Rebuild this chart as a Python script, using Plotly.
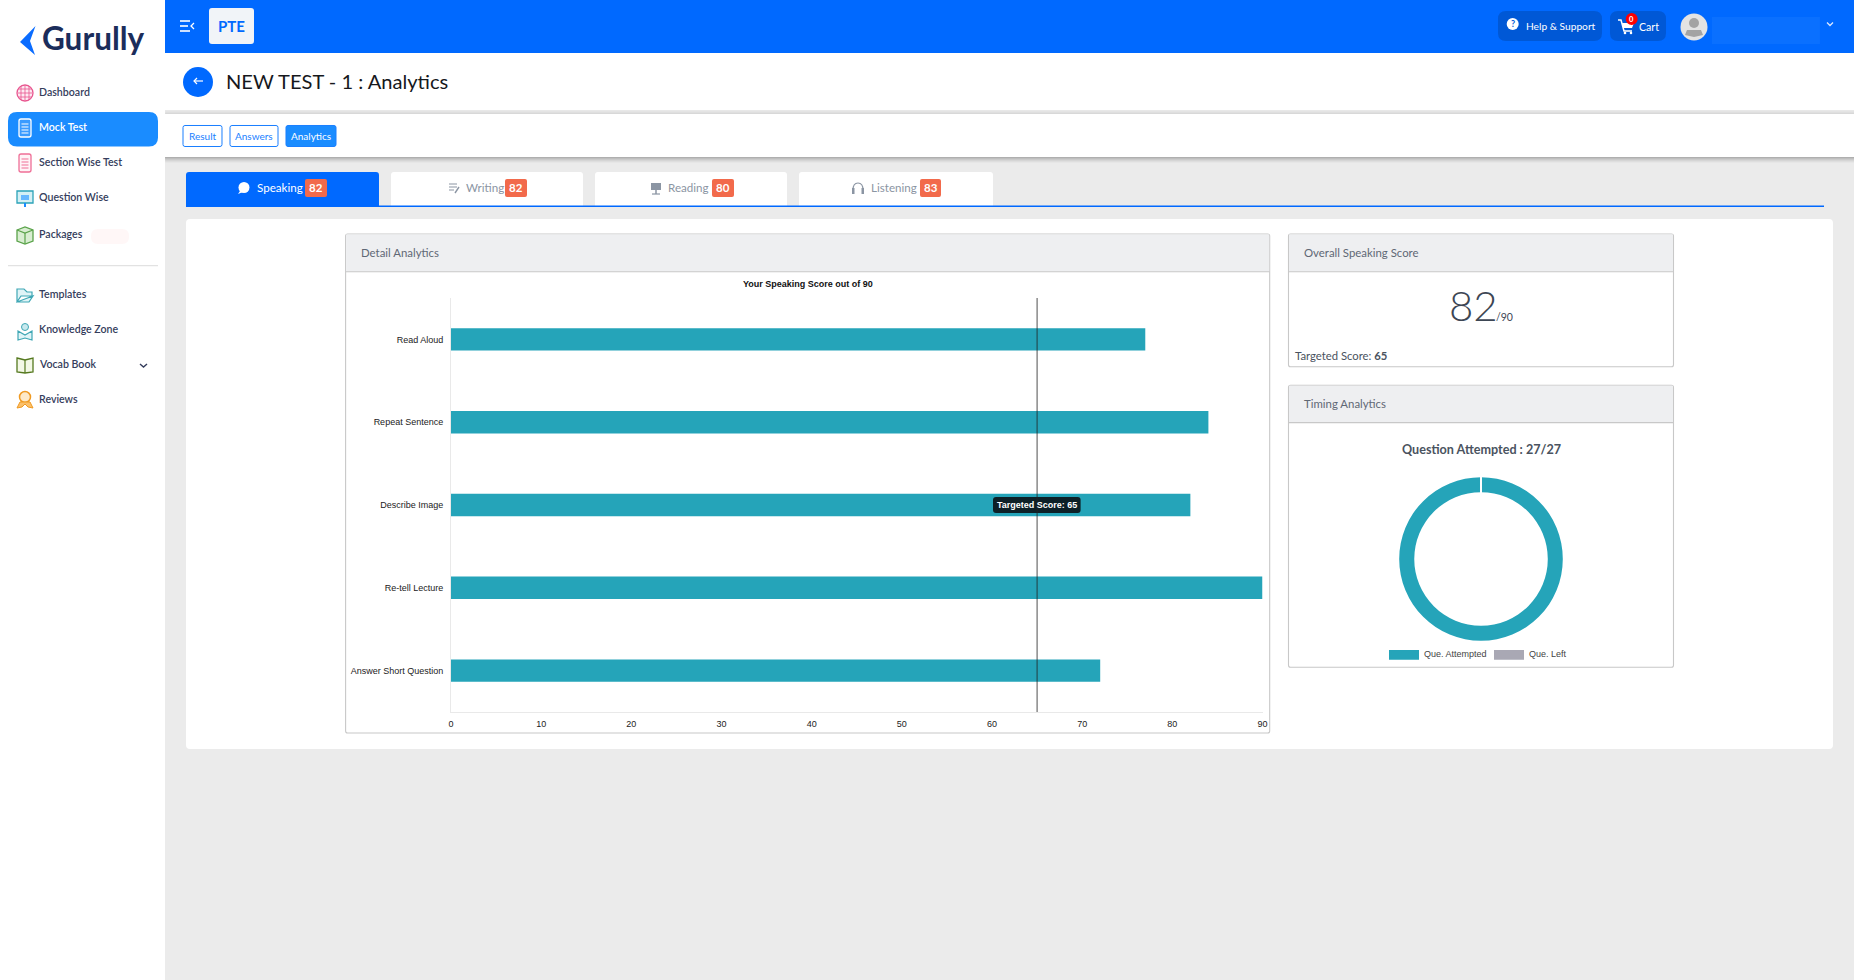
"""
Rebuild of the PTE mock test analytics page: score bars, timing donut and page chrome.
"""

import plotly.graph_objects as go

# ---- chart data ----
CATEGORIES = ["Read Aloud", "Repeat Sentence", "Describe Image", "Re-tell Lecture", "Answer Short Question"]
SCORES = [77, 84, 82, 90, 72]
TARGET_SCORE = 65
X_TICKS = [0, 10, 20, 30, 40, 50, 60, 70, 80, 90]
MAX_SCORE = 90

DONUT_LABELS = ["Que. Attempted", "Que. Left"]
DONUT_VALUES = [27, 0]

OVERALL_SCORE = 82
TAB_NAMES = ["Speaking", "Writing", "Reading", "Listening"]
TAB_SCORES = [82, 82, 80, 83]
NAV_LABELS = ["Dashboard", "Mock Test", "Section Wise Test", "Question Wise", "Packages",
              "Templates", "Knowledge Zone", "Vocab Book", "Reviews"]
SUB_BUTTONS = ["Result", "Answers", "Analytics"]

# ---- page geometry, in screen pixels ----
W, H = 1854, 980
NAV_Y = [92, 127, 162, 197, 234, 294, 329, 364, 399]
TAB_X = [(186, 379), (391, 583), (595, 787), (799, 993)]
TAB_ICON_X = [244, 454, 656, 858]
TAB_TEXT_X = [257, 466, 668, 871]
TAB_BADGE_X = [(305, 327), (505, 527), (712, 734), (920, 941)]
BUTTON_X = [(183, 222), (230, 278), (286, 336)]

BLUE = "#0069ff"
TEAL = "#25a4b9"
GREY_LEFT = "#a9a8b4"
PAGE = "#ebebeb"
BORDER = "#c8c8c8"
CARD_HEAD = "#eeeff1"
NAVY = "#353d5c"
UI_FONT = "Lato"
CHART_FONT = "Liberation Sans"

fig = go.Figure()


def px(x):
    return x / W


def py(y):
    return 1 - y / H


def add_path(d, fill="rgba(0,0,0,0)", line=None, lw=0, layer="below"):
    fig.add_shape(type="path", path=d, xref="paper", yref="paper", fillcolor=fill, layer=layer,
                  line=dict(color=line or "rgba(0,0,0,0)", width=lw))


def poly(pts, fill="rgba(0,0,0,0)", line=None, lw=0, closed=True, layer="below"):
    d = "M " + " L ".join(f"{px(x):.5f},{py(y):.5f}" for x, y in pts)
    add_path(d + (" Z" if closed else ""), fill, line, lw, layer)


def box(x0, y0, x1, y1, fill, line=None, lw=0, r=0, top_only=False, layer="below"):
    """Rectangle with optional rounded corners, drawn as an svg path."""
    rb = 0 if top_only else r
    d = (f"M {px(x0 + r):.5f},{py(y0):.5f} L {px(x1 - r):.5f},{py(y0):.5f} "
         f"Q {px(x1):.5f},{py(y0):.5f} {px(x1):.5f},{py(y0 + r):.5f} "
         f"L {px(x1):.5f},{py(y1 - rb):.5f} Q {px(x1):.5f},{py(y1):.5f} {px(x1 - rb):.5f},{py(y1):.5f} "
         f"L {px(x0 + rb):.5f},{py(y1):.5f} Q {px(x0):.5f},{py(y1):.5f} {px(x0):.5f},{py(y1 - rb):.5f} "
         f"L {px(x0):.5f},{py(y0 + r):.5f} Q {px(x0):.5f},{py(y0):.5f} {px(x0 + r):.5f},{py(y0):.5f} Z")
    add_path(d, fill, line, lw, layer)


def circle(cx, cy, r, fill="rgba(0,0,0,0)", line=None, lw=0, layer="below"):
    fig.add_shape(type="circle", xref="paper", yref="paper", x0=px(cx - r), x1=px(cx + r),
                  y0=py(cy + r), y1=py(cy - r), fillcolor=fill, layer=layer,
                  line=dict(color=line or "rgba(0,0,0,0)", width=lw))


def text(x, y, s, size, color, anchor="left", family=UI_FONT, weight=400):
    fig.add_annotation(x=px(x), y=py(y), xref="paper", yref="paper", text=s, showarrow=False,
                       xanchor=anchor, yanchor="middle", borderpad=0, borderwidth=0,
                       font=dict(family=family, size=size, color=color, weight=weight))


def doc_icon(cx, cy, stroke, fill):
    box(cx - 6, cy - 9, cx + 6, cy + 9, fill, stroke, 1.3, 2)
    for dy in (-4, -1, 2, 5):
        poly([(cx - 3.5, cy + dy), (cx + 3.5, cy + dy)], line=stroke, lw=1, closed=False)


# ---- page blocks ----
box(0, 0, 165, H, "#ffffff")
box(165, 0, W, 53, BLUE)
for i, alpha in enumerate([0.01, 0.015, 0.02, 0.03]):
    box(165, 110 + i, W, 114, f"rgba(0,0,0,{alpha})")
box(165, 53, W, 110, "#ffffff")
for i, alpha in enumerate([0.02, 0.03, 0.04, 0.05, 0.06, 0.08]):
    box(165, 157, W, 163 - i, f"rgba(0,0,0,{alpha})")
box(165, 114, W, 157, "#ffffff")

# sidebar
poly([(35.5, 26), (20, 42), (35, 55), (30, 41)], fill="#0a6cff")
text(41.5, 38, "Gurully", 31.5, "#1b2d5b", weight=700)
box(8, 112, 158, 146.5, "#1a8cff", r=9)
box(91, 229, 129, 244, "#fff7f7", r=7)
poly([(8, 265.7), (158, 265.7)], line="#e2e2e2", lw=1.2, closed=False)
for label, y in zip(NAV_LABELS, NAV_Y):
    text(39, y, label, 10.6, "#ffffff" if label == "Mock Test" else NAVY, weight=600)

# sidebar icons
circle(25, 93, 8, "#fdeaf2", "#e8558f", 1.3)
for d in (-4, 0, 4):
    poly([(25 + d, 86), (25 + d, 100)], line="#e8558f", lw=0.8, closed=False)
    poly([(18, 93 + d), (32, 93 + d)], line="#e8558f", lw=0.8, closed=False)
doc_icon(25, 128, "#ffffff", "#3a9bff")
doc_icon(25, 163, "#ef6f97", "#fff3f6")
box(17, 191, 33, 203, "#d5f0f5", "#2ba3b8", 1.3)
poly([(25, 203), (25, 207)], line="#1a8cff", lw=2, closed=False)
box(21, 195, 29, 200, "#68b8ff")
poly([(17, 230), (25, 227), (33, 230), (33, 241), (25, 244), (17, 241)], fill="#d9eed2", line="#5aa34a", lw=1.3)
poly([(17, 230), (25, 233), (33, 230)], line="#5aa34a", lw=1.2, closed=False)
poly([(25, 233), (25, 244)], line="#5aa34a", lw=1.2, closed=False)
poly([(17, 302), (17, 289), (24, 289), (27, 292), (32, 292), (32, 296), (21, 296), (17, 302), (29, 302), (33, 296)],
     fill="#e0f4f7", line="#3fa7b5", lw=1.2)
circle(25, 327, 3.5, "#c8e9ee", "#3fa7b5", 1)
poly([(18, 331), (25, 335), (32, 331), (32, 340), (25, 338), (18, 340)], fill="#e0f4f7", line="#3fa7b5", lw=1.2)
poly([(17, 358), (25, 360), (33, 358), (33, 372), (25, 373), (17, 372)], fill="#f3f8e6", line="#55791f", lw=1.3)
poly([(25, 360), (25, 373)], line="#55791f", lw=1.2, closed=False)
circle(25, 397, 5.5, "#fde9c8", "#f09a22", 1.5)
poly([(20, 402), (17, 408), (22, 407), (25, 404), (28, 407), (33, 408), (30, 402)], fill="#fbc06a", line="#f09a22", lw=1)
poly([(140, 364), (143.5, 367), (147, 364)], line=NAVY, lw=1.4, closed=False)

# top bar
for dy in (-5, 0, 5):
    poly([(180, 26 + dy), (190 if dy else 188, 26 + dy)], line="#ffffff", lw=1.6, closed=False)
poly([(194, 23), (191, 26), (194, 29)], line="#ffffff", lw=1.3, closed=False)
box(209, 8, 254, 44, "#f1f4f8", r=3)
text(231.5, 26, "PTE", 15, BLUE, "center", weight=700)
box(1498, 11, 1602, 41, "#0058d6", r=8)
box(1610, 11, 1666, 41, "#0058d6", r=8)
circle(1512.7, 24, 6, "#ffffff")
text(1512.7, 24, "?", 9, "#0058d6", "center", weight=700)
text(1526, 26, "Help &amp; Support", 10.2, "#ffffff")
poly([(1618, 20), (1621, 20), (1624, 31), (1632, 31)], line="#ffffff", lw=1.5, closed=False)
poly([(1622, 23), (1634, 23), (1632, 28), (1623, 28)], fill="#ffffff")
circle(1625, 33, 1.3, "#ffffff")
circle(1631, 33, 1.3, "#ffffff")
circle(1631.7, 19, 6, "#ff0000")
text(1631.7, 19, "0", 7.5, "#ffffff", "center", weight=700)
text(1639, 27.5, "Cart", 10.6, "#ffffff")
circle(1694, 27, 13.5, "#e3e3e3")
circle(1694, 23, 5, "#a3a3a3")
poly([(1685, 35), (1687, 30), (1701, 30), (1703, 35), (1694, 37)], fill="#a3a3a3")
box(1712, 17, 1820, 44, "#0a70ff")
poly([(1827, 22.5), (1830, 25.5), (1833, 22.5)], line="#dbe8ff", lw=1.3, closed=False)

# title strip
circle(198, 82, 15, BLUE)
poly([(203, 81), (194, 81)], line="#ffffff", lw=1.2, closed=False)
poly([(197, 78), (194, 81), (197, 84)], line="#ffffff", lw=1.2, closed=False)
text(225.5, 81, "NEW TEST - 1 : Analytics", 20.1, "#16181c")
for label, (x0, x1) in zip(SUB_BUTTONS, BUTTON_X):
    active = label == "Analytics"
    box(x0, 125.5, x1, 146.5, "#1a8cff" if active else "#ffffff", "#1a7fff", 1, r=2)
    text((x0 + x1) / 2, 135.5, label, 10, "#ffffff" if active else "#1a7fff", "center")

# tabs
for name, score, (x0, x1), ix, tx, (bx0, bx1) in zip(TAB_NAMES, TAB_SCORES, TAB_X, TAB_ICON_X, TAB_TEXT_X, TAB_BADGE_X):
    active = name == "Speaking"
    box(x0, 172, x1, 206, BLUE if active else "#ffffff", r=3, top_only=True)
    colour = "#ffffff" if active else "#8b95a3"
    text(tx, 188, name, 11.6, colour)
    box(bx0, 179, bx1, 197, "#f26a4b", r=2)
    text((bx0 + bx1) / 2, 188, str(score), 11.5, "#ffffff", "center", weight=700)
    if name == "Speaking":
        circle(ix, 187.5, 5.5, "#ffffff")
        poly([(ix - 4, 191), (ix - 6, 194), (ix - 1, 192)], fill="#ffffff")
    elif name == "Writing":
        for dy, ln in ((-4, 8), (-1, 8), (2, 5)):
            poly([(ix - 5, 188 + dy), (ix - 5 + ln, 188 + dy)], line=colour, lw=1, closed=False)
        poly([(ix + 1, 193), (ix + 5, 187)], line=colour, lw=1.4, closed=False)
    elif name == "Reading":
        box(ix - 5, 183, ix + 5, 190, colour)
        poly([(ix, 190), (ix, 194)], line=colour, lw=1.5, closed=False)
        poly([(ix - 4, 194), (ix + 4, 194)], line=colour, lw=1.2, closed=False)
    else:
        d = (f"M {px(ix - 5):.5f},{py(190):.5f} Q {px(ix - 5):.5f},{py(183):.5f} {px(ix):.5f},{py(183):.5f} "
             f"Q {px(ix + 5):.5f},{py(183):.5f} {px(ix + 5):.5f},{py(190):.5f}")
        add_path(d, line=colour, lw=1.2)
        box(ix - 6, 188, ix - 3.5, 194, colour)
        box(ix + 3.5, 188, ix + 6, 194, colour)
poly([(186, 206.3), (1824, 206.3)], line=BLUE, lw=1.4, closed=False)

# cards
box(186, 219, 1833, 749, "#ffffff", r=4)
for x0, y0, x1, y1, head_y, title in [
    (345.6, 234, 1269.7, 733, 271.8, "Detail Analytics"),
    (1288.5, 234, 1673.5, 366.7, 271.8, "Overall Speaking Score"),
    (1288.5, 385.3, 1673.5, 667.3, 422.6, "Timing Analytics"),
]:
    box(x0, y0, x1, y1, "#ffffff", BORDER, 1.1, r=2)
    box(x0 + 0.5, y0 + 0.5, x1 - 0.5, head_y, CARD_HEAD)
    poly([(x0, head_y), (x1, head_y)], line=BORDER, lw=1.1, closed=False)
    text(x0 + 15.5, (y0 + head_y) / 2, title, 11.4, "#5f6875")

text(1473, 305, str(OVERALL_SCORE), 42, "#3d4654", "center", weight=300)
text(1496, 317, f"/{MAX_SCORE}", 10.5, "#3d4654")
text(1295, 355.5, f"Targeted Score: <b>{TARGET_SCORE}</b>", 11.3, "#4a5360")
text(1481, 449, f"Question Attempted : {DONUT_VALUES[0]}/{sum(DONUT_VALUES)}", 12.6, "#4a5360", "center", weight=700)

# ---- bars ----
fig.add_trace(go.Bar(
    x=SCORES, y=CATEGORIES, orientation="h",
    marker=dict(color=TEAL, line=dict(width=0)),
    hoverinfo="skip", showlegend=False,
))
box(993, 497, 1080.6, 513, "#0d2027", r=3, layer="above")
fig.add_shape(type="line", xref="x", yref="y domain", x0=TARGET_SCORE, x1=TARGET_SCORE, y0=0, y1=1,
              line=dict(color="#222222", width=0.8), layer="above")
fig.add_annotation(x=TARGET_SCORE, y=CATEGORIES[2], xref="x", yref="y", text=f"Targeted Score: {TARGET_SCORE}",
                   showarrow=False, font=dict(family=CHART_FONT, size=9, color="#ffffff", weight=700))
text(807.6, 284, f"Your Speaking Score out of {MAX_SCORE}", 9, "#111111", "center", CHART_FONT, 700)

# ---- donut ----
fig.add_trace(go.Pie(
    labels=DONUT_LABELS, values=DONUT_VALUES, hole=0.816, sort=False, direction="clockwise",
    marker=dict(colors=[TEAL, GREY_LEFT], line=dict(width=0)),
    textinfo="none", hoverinfo="skip", showlegend=False,
    domain=dict(x=[px(1481 - 81.8), px(1481 + 81.8)], y=[py(559 + 81.8), py(559 - 81.8)]),
))
poly([(1481, 477), (1481, 493)], line="#ffffff", lw=2, closed=False, layer="above")

# legend drawn by hand, the chart.js swatches are wider than plotly's
box(1389, 650, 1419, 659.7, TEAL)
text(1423.7, 654, DONUT_LABELS[0], 9, "#444444", family=CHART_FONT)
box(1494, 650, 1524, 659.7, GREY_LEFT)
text(1528.7, 654, DONUT_LABELS[1], 9, "#444444", family=CHART_FONT)

fig.update_layout(
    width=W, height=H,
    margin=dict(l=0, r=0, t=0, b=0, autoexpand=False),
    paper_bgcolor=PAGE, plot_bgcolor="rgba(0,0,0,0)",
    bargap=0.73,
    xaxis=dict(
        domain=[px(451), px(1262.5)], range=[0, MAX_SCORE], tickvals=X_TICKS,
        showgrid=False, zeroline=False, showline=True, linecolor="#e9e9e9", linewidth=1,
        ticks="outside", ticklen=3, tickcolor="rgba(0,0,0,0)",
        tickfont=dict(family=CHART_FONT, size=9, color="#222222"),
    ),
    yaxis=dict(
        domain=[py(712), py(298)], autorange="reversed",
        showgrid=False, zeroline=False, showline=True, linecolor="#e9e9e9", linewidth=1,
        ticks="outside", ticklen=5, tickcolor="rgba(0,0,0,0)",
        tickfont=dict(family=CHART_FONT, size=9, color="#222222"),
    ),
)

fig.write_html("out.html", config=dict(displayModeBar=False),
               post_script="document.body.style.margin='0';document.body.style.overflow='hidden';")
